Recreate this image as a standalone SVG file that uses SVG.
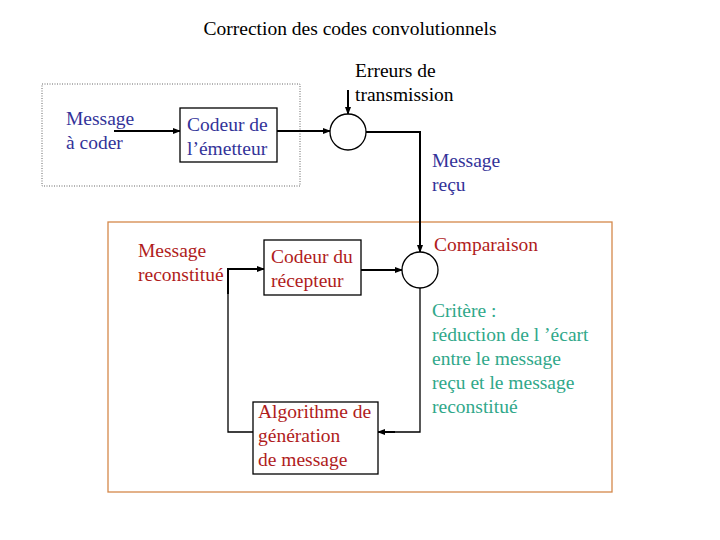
<svg xmlns="http://www.w3.org/2000/svg" width="720" height="540" viewBox="0 0 720 540">
<defs>
<marker id="ah" markerWidth="8" markerHeight="8" refX="7" refY="4" orient="auto" markerUnits="userSpaceOnUse"><path d="M0,1 L8,4 L0,7 Z" fill="#000"/></marker>
<style>
text{font-family:"Liberation Serif",serif;font-size:19.5px}
.b{fill:#333399}.r{fill:#b01c1c}.g{fill:#30a88a}.k{fill:#000}
.box{fill:#fff;stroke:#000;stroke-width:1.3}
.ln{fill:none;stroke:#000;stroke-width:2}
.thin{fill:none;stroke:#000;stroke-width:1.3}
</style>
</defs>
<rect width="720" height="540" fill="#fff"/>
<text class="k" x="350" y="35" text-anchor="middle">Correction des codes convolutionnels</text>
<rect x="42" y="84" width="258" height="102" fill="none" stroke="#666" stroke-dasharray="1,1.5"/>
<rect x="108" y="222" width="504" height="270" fill="none" stroke="#d4884a" stroke-width="1.3"/>
<g id="connectors">
<path class="ln" d="M114,131 H180" marker-end="url(#ah)"/>
<path class="ln" d="M277,131 H330" marker-end="url(#ah)"/>
<path class="ln" d="M348,90 V114" marker-end="url(#ah)"/>
<path class="ln" d="M366,132 H420 V252" marker-end="url(#ah)"/>
<path class="ln" d="M361,270 H402" marker-end="url(#ah)"/>
<path class="ln" d="M228,294 V269 H264" marker-end="url(#ah)"/>
<path class="thin" d="M228,294 V432 H253"/>
<path class="thin" d="M420,288 V432 H395"/>
<path class="ln" d="M395,432 H378" marker-end="url(#ah)"/>
</g>
<g id="msg-a-coder"><text class="b" x="66" y="125">Message</text><text class="b" x="66" y="149">à coder</text></g>
<g id="codeur-emetteur"><rect class="box" x="180" y="108" width="97" height="54"/><text class="b" x="187" y="131">Codeur de</text><text class="b" x="187" y="155">l’émetteur</text></g>
<g id="sum1"><circle class="box" cx="348" cy="132" r="18"/></g>
<g id="erreurs"><text class="k" x="355" y="77">Erreurs de</text><text class="k" x="355" y="101">transmission</text></g>
<g id="msg-recu"><text class="b" x="432" y="167">Message</text><text class="b" x="432" y="191">reçu</text></g>
<g id="sum2"><circle class="box" cx="420" cy="270" r="18"/></g>
<g id="comparaison"><text class="r" x="434" y="251">Comparaison</text></g>
<g id="msg-reconstitue"><text class="r" x="138" y="257">Message</text><text class="r" x="138" y="281">reconstitué</text></g>
<g id="codeur-recepteur"><rect class="box" x="264" y="240" width="97" height="55"/><text class="r" x="271" y="263">Codeur du</text><text class="r" x="271" y="287">récepteur</text></g>
<g id="algorithme"><rect class="box" x="253" y="402" width="125" height="72"/><text class="r" x="258" y="418">Algorithme de</text><text class="r" x="258" y="442">génération</text><text class="r" x="258" y="466">de message</text></g>
<g id="critere"><text class="g" x="432" y="317">Critère :</text><text class="g" x="432" y="341">réduction de l ’écart</text><text class="g" x="432" y="365">entre le message</text><text class="g" x="432" y="389">reçu et le message</text><text class="g" x="432" y="413">reconstitué</text></g>
</svg>
